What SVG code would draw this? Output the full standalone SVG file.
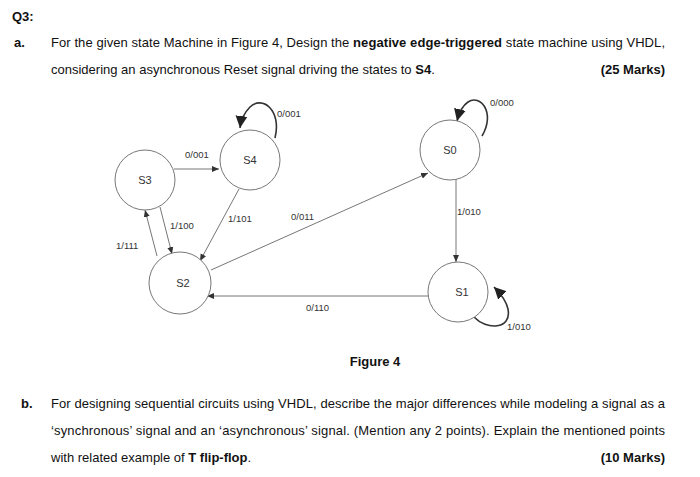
<svg xmlns="http://www.w3.org/2000/svg" width="700" height="477" viewBox="0 0 700 477">
<style>
.t{font-family:"Liberation Sans",Arial,sans-serif;font-size:13px;fill:#111}
.b{font-weight:bold}
.l{font-family:"Liberation Sans",Arial,sans-serif;font-size:9.5px;fill:#333}
.n{font-family:"Liberation Sans",Arial,sans-serif;font-size:11px;fill:#333;text-anchor:middle}
circle{fill:#fff;stroke:#777;stroke-width:1}
.c{fill:none;stroke:#666;stroke-width:0.9}
.lp{fill:none;stroke:#333;stroke-width:1.6}
</style>
<defs>
<marker id="a" markerWidth="8" markerHeight="8" refX="7" refY="4" orient="auto" markerUnits="userSpaceOnUse"><path d="M0,1 L7,4 L0,7z" fill="#333"/></marker>
<marker id="A" markerWidth="14" markerHeight="14" refX="12" refY="7" orient="auto" markerUnits="userSpaceOnUse"><path d="M0,1 L12,7 L0,13z" fill="#222"/></marker>
</defs>
<rect width="700" height="477" fill="#fff"/>
<text class="t b" x="12" y="21">Q3:</text>
<text class="t b" x="14" y="47">a.</text>
<text class="t" x="51" y="47" textLength="614">For the given state Machine in Figure 4, Design the <tspan class="b">negative edge-triggered</tspan> state machine using VHDL,</text>
<text class="t" x="51" y="74">considering an asynchronous Reset signal driving the states to <tspan class="b">S4</tspan>.</text>
<text class="t b" x="665" y="74" text-anchor="end">(25 Marks)</text>
<g id="connectors">
<path class="c" d="M174,169 L219,169" marker-end="url(#a)"/>
<path class="c" d="M239,189 L200,261" marker-end="url(#a)"/>
<path class="c" d="M160,207 L172,254" marker-end="url(#a)"/>
<path class="c" d="M157,256 L145,210" marker-end="url(#a)"/>
<path class="c" d="M211,270 L428,173" marker-end="url(#a)"/>
<path class="c" d="M456,179 L456,262" marker-end="url(#a)"/>
<path class="c" d="M429,296 L207,296" marker-end="url(#a)"/>
<path class="lp" d="M275,138 C282,110 262,95 250,107 C244,113 241,120 240,128" marker-end="url(#A)"/>
<path class="lp" d="M482,136 C496,112 480,94 468,102 C462,106 459,113 457,121" marker-end="url(#A)"/>
<path class="lp" d="M474,317 C486,330 512,330 508,309 C506,300 500,293 494,287" marker-end="url(#A)"/>
</g>
<g class="l">
<text x="185" y="158">0/001</text>
<text x="277" y="117">0/001</text>
<text x="490" y="106">0/000</text>
<text x="170" y="229">1/100</text>
<text x="116" y="249">1/111</text>
<text x="228" y="222">1/101</text>
<text x="291" y="220">0/011</text>
<text x="457" y="215">1/010</text>
<text x="306" y="311">0/110</text>
<text x="507" y="330">1/010</text>
</g>
<g id="S3"><circle cx="145" cy="180" r="30"/><text class="n" x="145" y="184">S3</text></g>
<g id="S4"><circle cx="250" cy="160" r="30"/><text class="n" x="250" y="164">S4</text></g>
<g id="S0"><circle cx="450" cy="150" r="30"/><text class="n" x="450" y="154">S0</text></g>
<g id="S1"><circle cx="458" cy="292" r="30"/><text class="n" x="462" y="296">S1</text></g>
<g id="S2"><circle cx="180" cy="283" r="31"/><text class="n" x="183" y="287">S2</text></g>
<text class="t b" x="375" y="366" text-anchor="middle">Figure 4</text>
<text class="t b" x="21" y="408">b.</text>
<text class="t" x="51" y="408" textLength="614">For designing sequential circuits using VHDL, describe the major differences while modeling a signal as a</text>
<text class="t" x="51" y="435" textLength="614">‘synchronous’ signal and an ‘asynchronous’ signal. (Mention any 2 points). Explain the mentioned points</text>
<text class="t" x="51" y="462">with related example of <tspan class="b">T flip-flop</tspan>.</text>
<text class="t b" x="665" y="462" text-anchor="end">(10 Marks)</text>
</svg>
